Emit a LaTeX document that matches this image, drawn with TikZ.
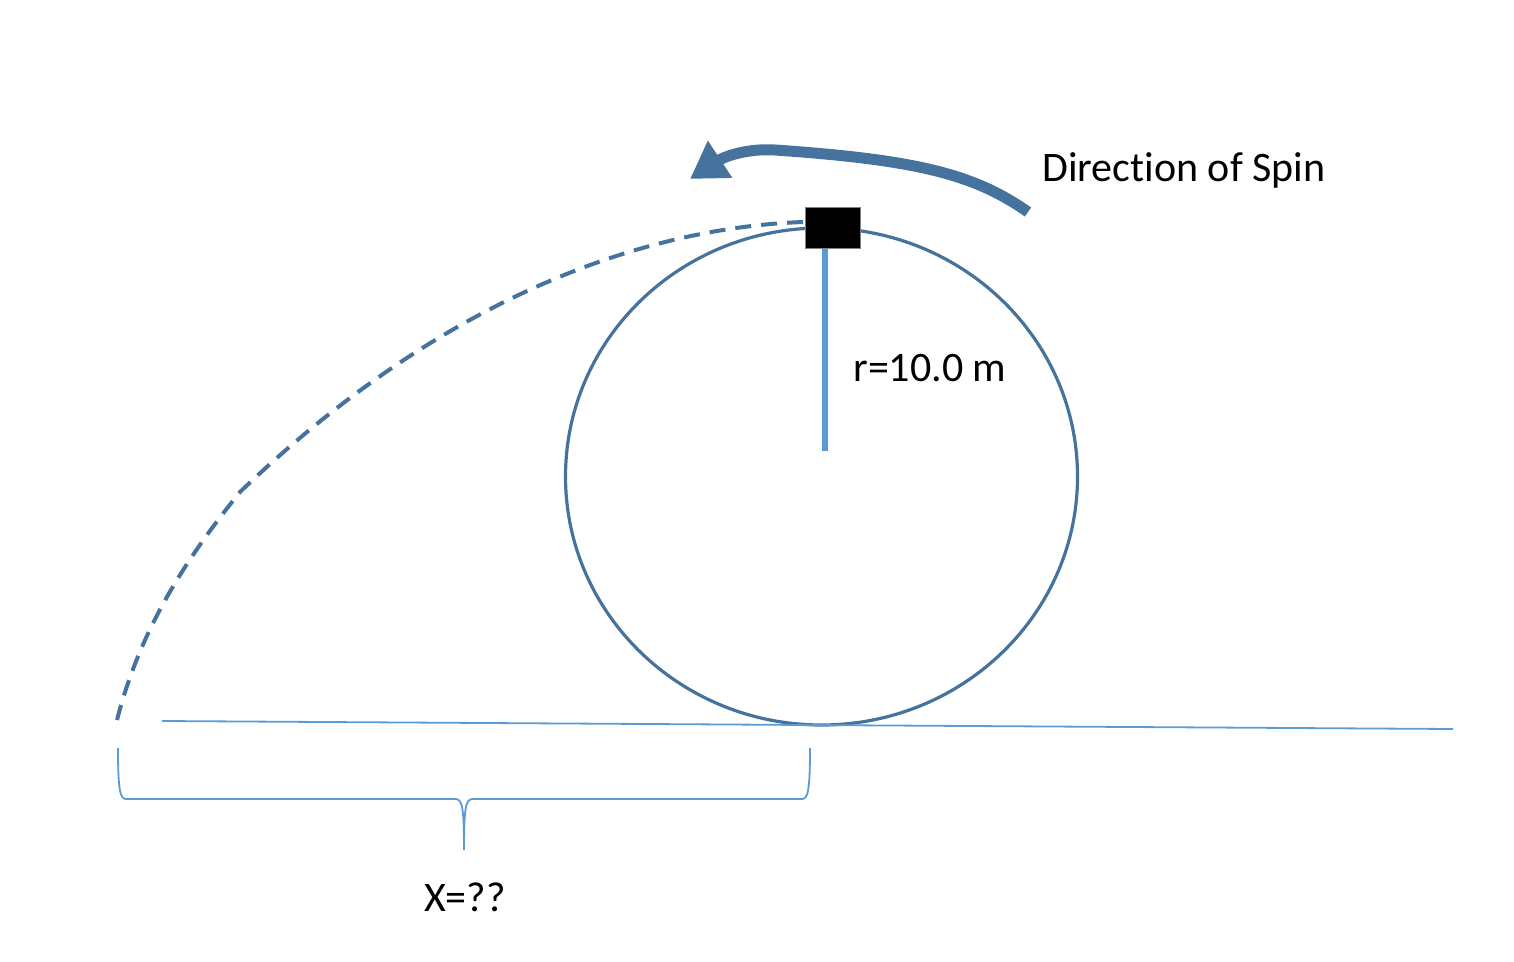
\documentclass[tikz,border=0pt]{standalone}
\usepackage{fontspec}
\setmainfont{Carlito}[Ligatures=NoCommon]
\usetikzlibrary{arrows.meta}
\definecolor{darkblue}{HTML}{45739D}
\definecolor{lightblue}{HTML}{5B9BD5}
\tikzset{
  wheel/.style={draw=darkblue, line width=1.6pt},
  spinarrow/.style={draw=darkblue, line width=5.5pt, -{Triangle[length=18pt,width=21pt]}},
  trajectory/.style={draw=darkblue, line width=2pt, dash pattern=on 8pt off 5pt},
  ground/.style={draw=lightblue, line width=0.9pt},
  radius/.style={draw=lightblue, line width=2.7pt},
  bracepath/.style={draw=lightblue, line width=0.9pt},
  label/.style={font=\fontsize{21}{24}\selectfont, inner sep=0pt},
  block/.style={fill=black, draw=gray, line width=0.5pt, minimum width=27.5pt, minimum height=20.5pt, inner sep=0pt}
}
\begin{document}
\begin{tikzpicture}[x=0.5pt,y=-0.5pt]
\useasboundingbox (0,0) rectangle (1514,962);
% wheel
\coordinate (c) at (821.5,476.5);
\draw[wheel] (c) ellipse [x radius=256, y radius=248.5];
% radius line
\coordinate (rtop) at (825,249);
\coordinate (rbot) at (825,451);
\draw[radius] (rtop) -- (rbot);
\node[label, anchor=west] (rlab) at (853,368) {r=10.0 m};
% ground
\coordinate (g1) at (162,721);
\coordinate (g2) at (1453,729);
\draw[ground] (g1) -- (g2);
% trajectory
\coordinate (t0) at (803,222);
\coordinate (t1) at (240,492);
\coordinate (t2) at (117,720);
\draw[trajectory] (t0) .. controls (640,228) and (440,300) .. (t1) .. controls (185,560) and (140,630) .. (t2);
% block
\node[block] (blk) at (832.5,228.5) {};
% spin arrow
\coordinate (a0) at (1028,212);
\coordinate (a1) at (775,150);
\coordinate (a2) at (690,179);
\draw[spinarrow] (a0) .. controls (975,175) and (920,160) .. (a1) .. controls (745,148) and (722,158) .. (a2);
\node[label, anchor=west] (spin) at (1042,170) {Direction of Spin};
% brace
\coordinate (bl) at (118,748);
\coordinate (br) at (810,748);
\coordinate (bm) at (464,850);
\draw[bracepath] (bl) .. controls (118,790) and (120,799) .. (126,799) -- (455,799)
  .. controls (462,799) and (464,805) .. (bm);
\draw[bracepath] (br) .. controls (810,790) and (808,799) .. (802,799) -- (473,799)
  .. controls (466,799) and (464,805) .. (bm);
\node[label] (xlab) at (465,897) {X=??};
\end{tikzpicture}
\end{document}
